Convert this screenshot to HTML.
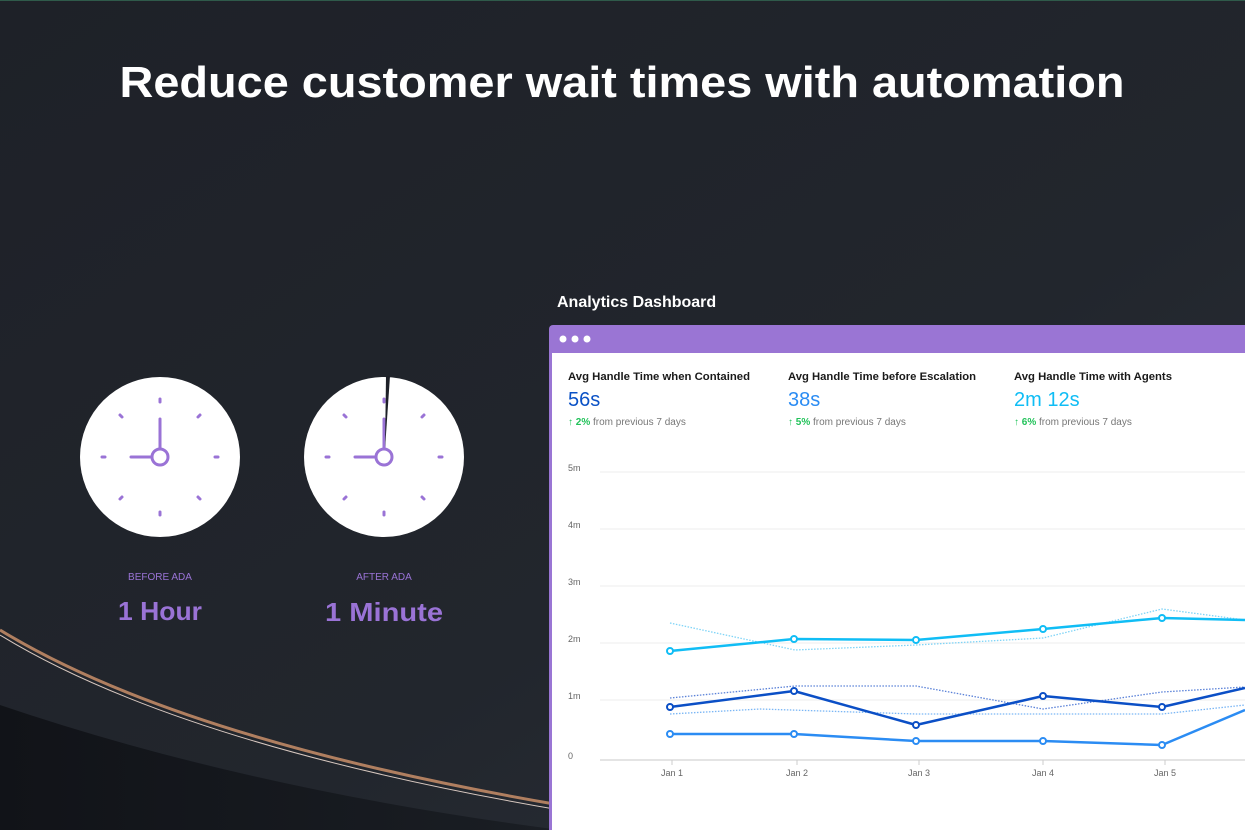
<!DOCTYPE html>
<html><head><meta charset="utf-8"><style>
html,body{margin:0;padding:0;width:1245px;height:830px;overflow:hidden;background:#1f2229;}
svg{display:block}
text{font-family:"Liberation Sans",sans-serif;}
</style></head><body>
<svg width="1245" height="830" viewBox="0 0 1245 830" xmlns="http://www.w3.org/2000/svg">
<defs>
<linearGradient id="bg" x1="0" y1="0" x2="1" y2="1">
<stop offset="0" stop-color="#1e2128"/><stop offset="0.6" stop-color="#22262d"/><stop offset="1" stop-color="#2a3038"/>
</linearGradient>
<linearGradient id="low" x1="0" y1="0" x2="1" y2="0">
<stop offset="0" stop-color="#111318"/><stop offset="1" stop-color="#1a1e24"/>
</linearGradient>
</defs>
<rect width="1245" height="830" fill="url(#bg)"/>
<rect width="1245" height="1" fill="#2f5a4a"/>
<path d="M0,705 Q250,790 560,830 L0,830 Z" fill="url(#low)"/>
<path d="M0,630 Q180,740 560,805" fill="none" stroke="#b07f60" stroke-width="3"/>
<path d="M0,635 Q180,745 560,810" fill="none" stroke="#d8c8c0" stroke-width="1"/>
<text x="622" y="97" font-size="44" font-weight="bold" fill="#ffffff" text-anchor="middle" textLength="1005" lengthAdjust="spacingAndGlyphs">Reduce customer wait times with automation</text>

<g transform="translate(160,457)">
<circle r="80" fill="#fff"/>
<g stroke="#9a73d6" stroke-width="3" stroke-linecap="round">
<line x1="0" y1="-58" x2="0" y2="-55"/><line x1="0" y1="58" x2="0" y2="55"/>
<line x1="-58" y1="0" x2="-55" y2="0"/><line x1="58" y1="0" x2="55" y2="0"/>
<line x1="-40" y1="-42" x2="-38" y2="-40"/><line x1="40" y1="-42" x2="38" y2="-40"/>
<line x1="-40" y1="42" x2="-38" y2="40"/><line x1="40" y1="42" x2="38" y2="40"/>
<line x1="0" y1="-8" x2="0" y2="-38"/><line x1="-8" y1="0" x2="-29" y2="0"/>
</g>
<circle r="8" fill="#fff" stroke="#9a73d6" stroke-width="3"/>
</g>
<g transform="translate(384,457)">
<circle r="80" fill="#fff"/>
<g stroke="#9a73d6" stroke-width="3" stroke-linecap="round">
<line x1="0" y1="-58" x2="0" y2="-55"/><line x1="0" y1="58" x2="0" y2="55"/>
<line x1="-58" y1="0" x2="-55" y2="0"/><line x1="58" y1="0" x2="55" y2="0"/>
<line x1="-40" y1="-42" x2="-38" y2="-40"/><line x1="40" y1="-42" x2="38" y2="-40"/>
<line x1="-40" y1="42" x2="-38" y2="40"/><line x1="40" y1="42" x2="38" y2="40"/>
<line x1="0" y1="-8" x2="0" y2="-38"/><line x1="-8" y1="0" x2="-29" y2="0"/>
</g>
<path d="M2,-81 L6,-81 L1,-8 Z" fill="#1e2128"/>
<circle r="8" fill="#fff" stroke="#9a73d6" stroke-width="3"/>
</g>
<text x="160" y="580" font-size="10" fill="#9a73d6" text-anchor="middle">BEFORE ADA</text>
<text x="384" y="580" font-size="10" fill="#9a73d6" text-anchor="middle">AFTER ADA</text>
<text x="160" y="620" font-size="26" font-weight="bold" fill="#9a73d6" text-anchor="middle" textLength="84" lengthAdjust="spacingAndGlyphs">1 Hour</text>
<text x="384" y="621" font-size="26" font-weight="bold" fill="#9a73d6" text-anchor="middle" textLength="118" lengthAdjust="spacingAndGlyphs">1 Minute</text>

<text x="557" y="307" font-size="16" font-weight="bold" fill="#ffffff">Analytics Dashboard</text>
<rect x="549" y="325" width="700" height="510" rx="4" fill="#9a75d4"/>
<rect x="552" y="353" width="700" height="480" fill="#ffffff"/>
<circle cx="563" cy="339" r="3.5" fill="#fff"/><circle cx="575" cy="339" r="3.5" fill="#fff"/><circle cx="587" cy="339" r="3.5" fill="#fff"/>

<g font-size="11" fill="#1a1a1a" font-weight="bold">
<text x="568" y="380" textLength="182" lengthAdjust="spacingAndGlyphs">Avg Handle Time when Contained</text>
<text x="788" y="380" textLength="188" lengthAdjust="spacingAndGlyphs">Avg Handle Time before Escalation</text>
<text x="1014" y="380" textLength="158" lengthAdjust="spacingAndGlyphs">Avg Handle Time with Agents</text>
</g>
<text x="568" y="406" font-size="20" fill="#0b52c6">56s</text>
<text x="788" y="406" font-size="20" fill="#2b8cf3">38s</text>
<text x="1014" y="406" font-size="20" fill="#10bdf5">2m 12s</text>
<g font-size="10" fill="#777">
<text x="568" y="425"><tspan fill="#22c25a" font-weight="bold">↑ 2%</tspan> from previous 7 days</text>
<text x="788" y="425"><tspan fill="#22c25a" font-weight="bold">↑ 5%</tspan> from previous 7 days</text>
<text x="1014" y="425"><tspan fill="#22c25a" font-weight="bold">↑ 6%</tspan> from previous 7 days</text>
</g>

<g stroke="#ececec" stroke-width="1">
<line x1="600" y1="472" x2="1245" y2="472"/><line x1="600" y1="529" x2="1245" y2="529"/>
<line x1="600" y1="586" x2="1245" y2="586"/><line x1="600" y1="643" x2="1245" y2="643"/>
<line x1="600" y1="700" x2="1245" y2="700"/>
</g>
<line x1="600" y1="760" x2="1245" y2="760" stroke="#dcdcdc" stroke-width="1.5"/>
<g font-size="9" fill="#666">
<text x="568" y="471">5m</text><text x="568" y="528">4m</text><text x="568" y="585">3m</text>
<text x="568" y="642">2m</text><text x="568" y="699">1m</text><text x="568" y="759">0</text>
</g>
<g font-size="9" fill="#666" text-anchor="middle">
<text x="672" y="776">Jan 1</text><text x="797" y="776">Jan 2</text><text x="919" y="776">Jan 3</text>
<text x="1043" y="776">Jan 4</text><text x="1165" y="776">Jan 5</text>
</g>
<g stroke="#ccc"><line x1="672" y1="760" x2="672" y2="765"/><line x1="797" y1="760" x2="797" y2="765"/><line x1="919" y1="760" x2="919" y2="765"/><line x1="1043" y1="760" x2="1043" y2="765"/><line x1="1165" y1="760" x2="1165" y2="765"/></g>

<g fill="none" stroke-width="1.3" stroke-dasharray="1.5 1.5">
<polyline stroke="#7fd4f7" points="670,623 795,650 916,645 1043,638 1162,609 1245,620"/>
<polyline stroke="#5b82d8" points="670,698 795,686 916,686 1043,709 1162,692 1245,687"/>
<polyline stroke="#7ab6f5" points="670,714 760,709 916,714 1043,714 1162,714 1245,705"/>
</g>
<g fill="none" stroke-width="2.5" stroke-linejoin="round">
<polyline stroke="#10bdf5" points="670,651 794,639 916,640 1043,629 1162,618 1245,620"/>
<polyline stroke="#0b4fc6" points="670,707 794,691 916,725 1043,696 1162,707 1245,688"/>
<polyline stroke="#2b8cf3" points="670,734 794,734 916,741 1043,741 1162,745 1245,710"/>
</g>
<g fill="#fff" stroke-width="2">
<g stroke="#10bdf5"><circle cx="670" cy="651" r="3"/><circle cx="794" cy="639" r="3"/><circle cx="916" cy="640" r="3"/><circle cx="1043" cy="629" r="3"/><circle cx="1162" cy="618" r="3"/></g>
<g stroke="#0b4fc6"><circle cx="670" cy="707" r="3"/><circle cx="794" cy="691" r="3"/><circle cx="916" cy="725" r="3"/><circle cx="1043" cy="696" r="3"/><circle cx="1162" cy="707" r="3"/></g>
<g stroke="#2b8cf3"><circle cx="670" cy="734" r="3"/><circle cx="794" cy="734" r="3"/><circle cx="916" cy="741" r="3"/><circle cx="1043" cy="741" r="3"/><circle cx="1162" cy="745" r="3"/></g>
</g>
</svg>
</body></html>
